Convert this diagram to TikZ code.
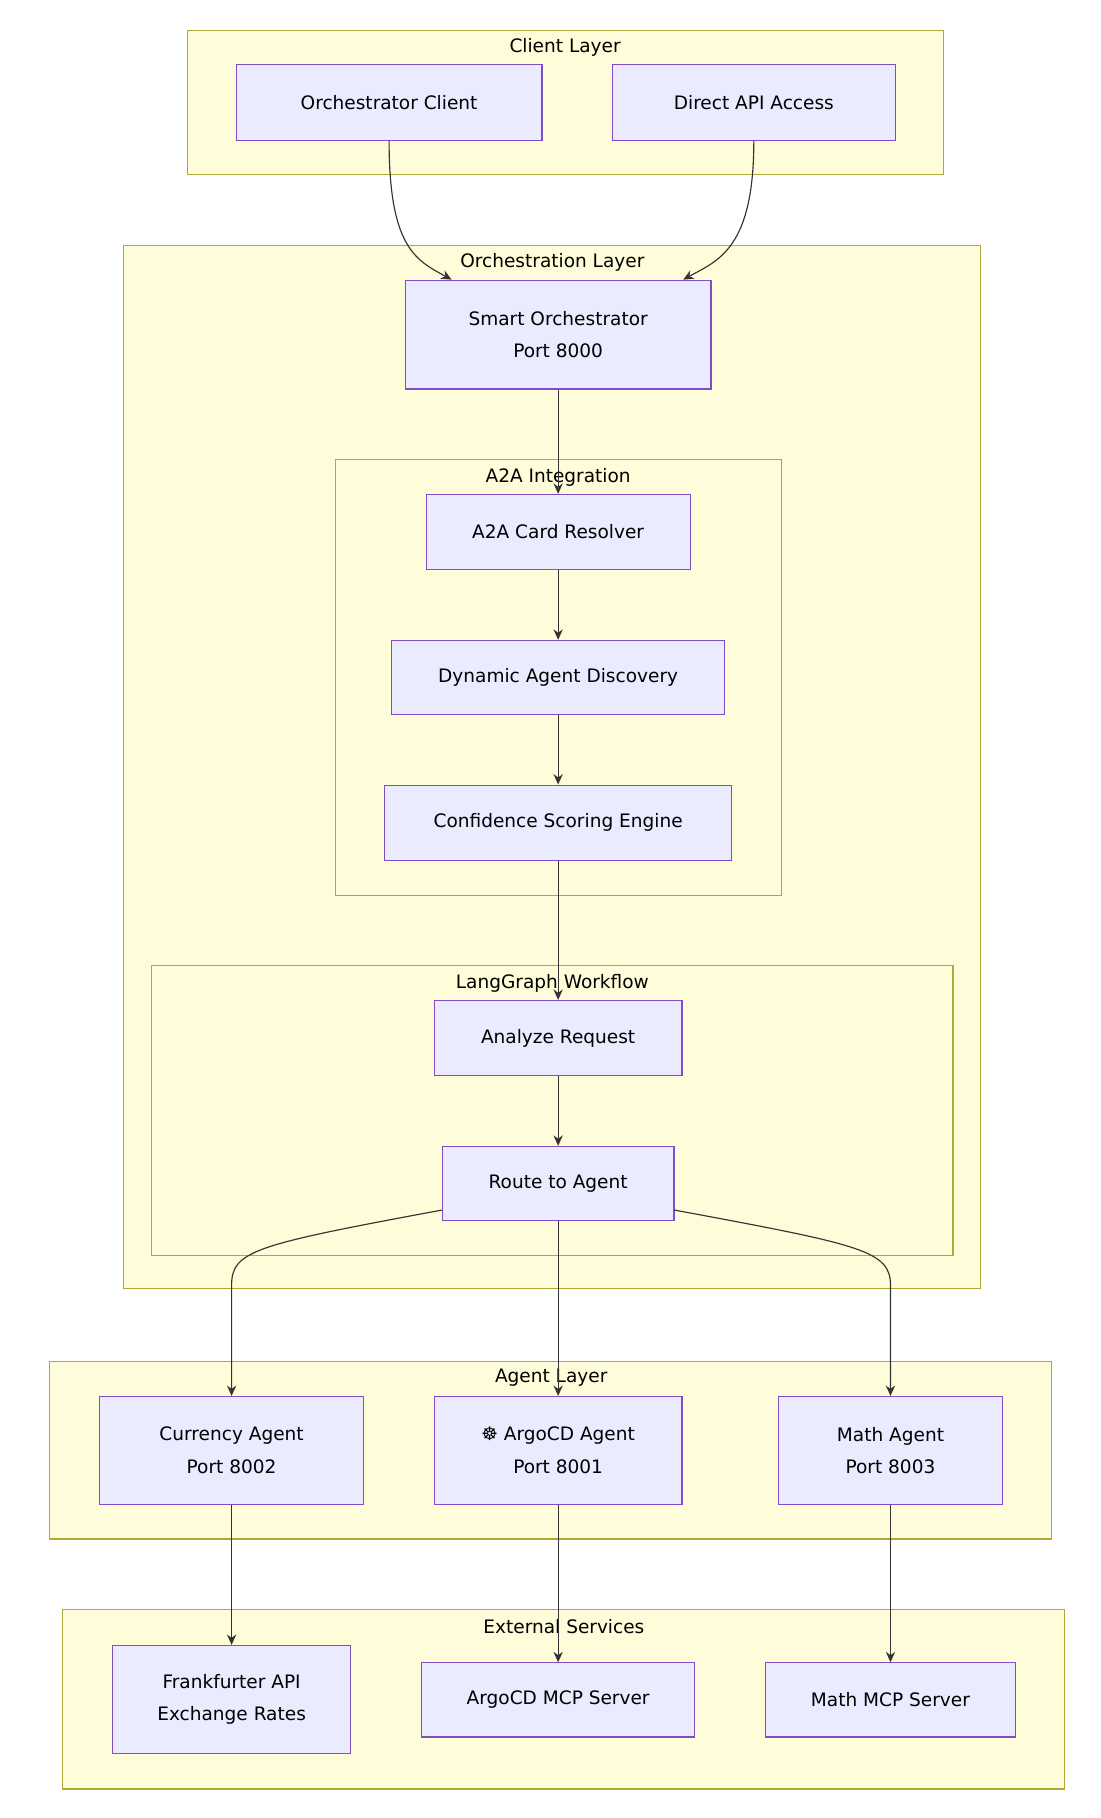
\documentclass[tikz,border=0pt]{standalone}
\usepackage{fontspec}
\setmainfont{DejaVu Sans}
\usetikzlibrary{positioning, arrows.meta}
\begin{document}
\begin{tikzpicture}[x=1pt, y=-1pt, font=\fontsize{16}{28}\selectfont]
        % Setup the styles
        \tikzset{box style/.style={draw=violet!60!blue!70, line width=1pt,
                                   fill=blue!8!white, align=center,
                                   inner sep=0pt}}
        \tikzset{layer style/.style={draw=olive!70, line width=1pt,
                                     fill=yellow!15!white}}
        \tikzset{link style/.style={draw=black!80, line width=1pt,
                                    -{Stealth[length=9pt,width=8pt]}}}
        \useasboundingbox (0,0) rectangle (950,1570);
        % Draw the layers
        \draw[layer style] (162,26) rectangle (815,151);
        \node (clientT) at (488,41) {Client Layer};
        \draw[layer style] (107,212) rectangle (847,1113);
        \node (orchT) at (477,227) {Orchestration Layer};
        \draw[layer style] (290,397) rectangle (675,773);
        \node (a2aT) at (482,412) {A2A Integration};
        \draw[layer style] (131,834) rectangle (823,1084);
        \node (langT) at (477,849) {LangGraph Workflow};
        \draw[layer style] (43,1176) rectangle (908,1329);
        \node (agentT) at (476,1190) {Agent Layer};
        \draw[layer style] (54,1390) rectangle (919,1545);
        \node (extT) at (487,1405) {External Services};
        % Draw the nodes
        \node[box style, minimum width=264, minimum height=65] at (336,88.5) (oclient) {Orchestrator Client};
        \node[box style, minimum width=244, minimum height=65] at (651,88.5) (direct) {Direct API Access};
        \node[box style, minimum width=264, minimum height=94] at (482,289) (smart) {Smart Orchestrator\\Port 8000};
        \node[box style, minimum width=228, minimum height=65] at (482,459.5) (resolver) {A2A Card Resolver};
        \node[box style, minimum width=288, minimum height=64] at (482,585) (discovery) {Dynamic Agent Discovery};
        \node[box style, minimum width=300, minimum height=65] at (482,710.5) (scoring) {Confidence Scoring Engine};
        \node[box style, minimum width=214, minimum height=65] at (482,896.5) (analyze) {Analyze Request};
        \node[box style, minimum width=200, minimum height=64] at (482,1022) (route) {Route to Agent};
        \node[box style, minimum width=228, minimum height=93] at (200,1252.5) (currency) {Currency Agent\\Port 8002};
        \node[box style, minimum width=214, minimum height=93] at (482,1252.5) (argocd) {☸ ArgoCD Agent\\Port 8001};
        \node[box style, minimum width=194, minimum height=93] at (769,1252.5) (math) {Math Agent\\Port 8003};
        \node[box style, minimum width=206, minimum height=93] at (200,1467.5) (frankfurter) {Frankfurter API\\Exchange Rates};
        \node[box style, minimum width=236, minimum height=64] at (482,1468) (argomcp) {ArgoCD MCP Server};
        \node[box style, minimum width=216, minimum height=64] at (769,1468) (mathmcp) {Math MCP Server};
        % Connect the nodes
        \draw[link style] (oclient.south) .. controls (336,215) and (360,225) .. (smart.north west -| 390,0);
        \draw[link style] (direct.south) .. controls (651,215) and (620,225) .. (smart.north east -| 590,0);
        \draw[link style] (smart) -- (resolver);
        \draw[link style] (resolver) -- (discovery);
        \draw[link style] (discovery) -- (scoring);
        \draw[link style] (scoring) -- (analyze);
        \draw[link style] (analyze) -- (route);
        \draw[link style] (route.south west |- 0,1045) .. controls (220,1075) and (200,1080) .. (200,1110) -- (currency.north);
        \draw[link style] (route) -- (argocd);
        \draw[link style] (route.south east |- 0,1045) .. controls (744,1075) and (769,1080) .. (769,1110) -- (math.north);
        \draw[link style] (currency) -- (frankfurter);
        \draw[link style] (argocd) -- (argomcp);
        \draw[link style] (math) -- (mathmcp);
\end{tikzpicture}
\end{document}
